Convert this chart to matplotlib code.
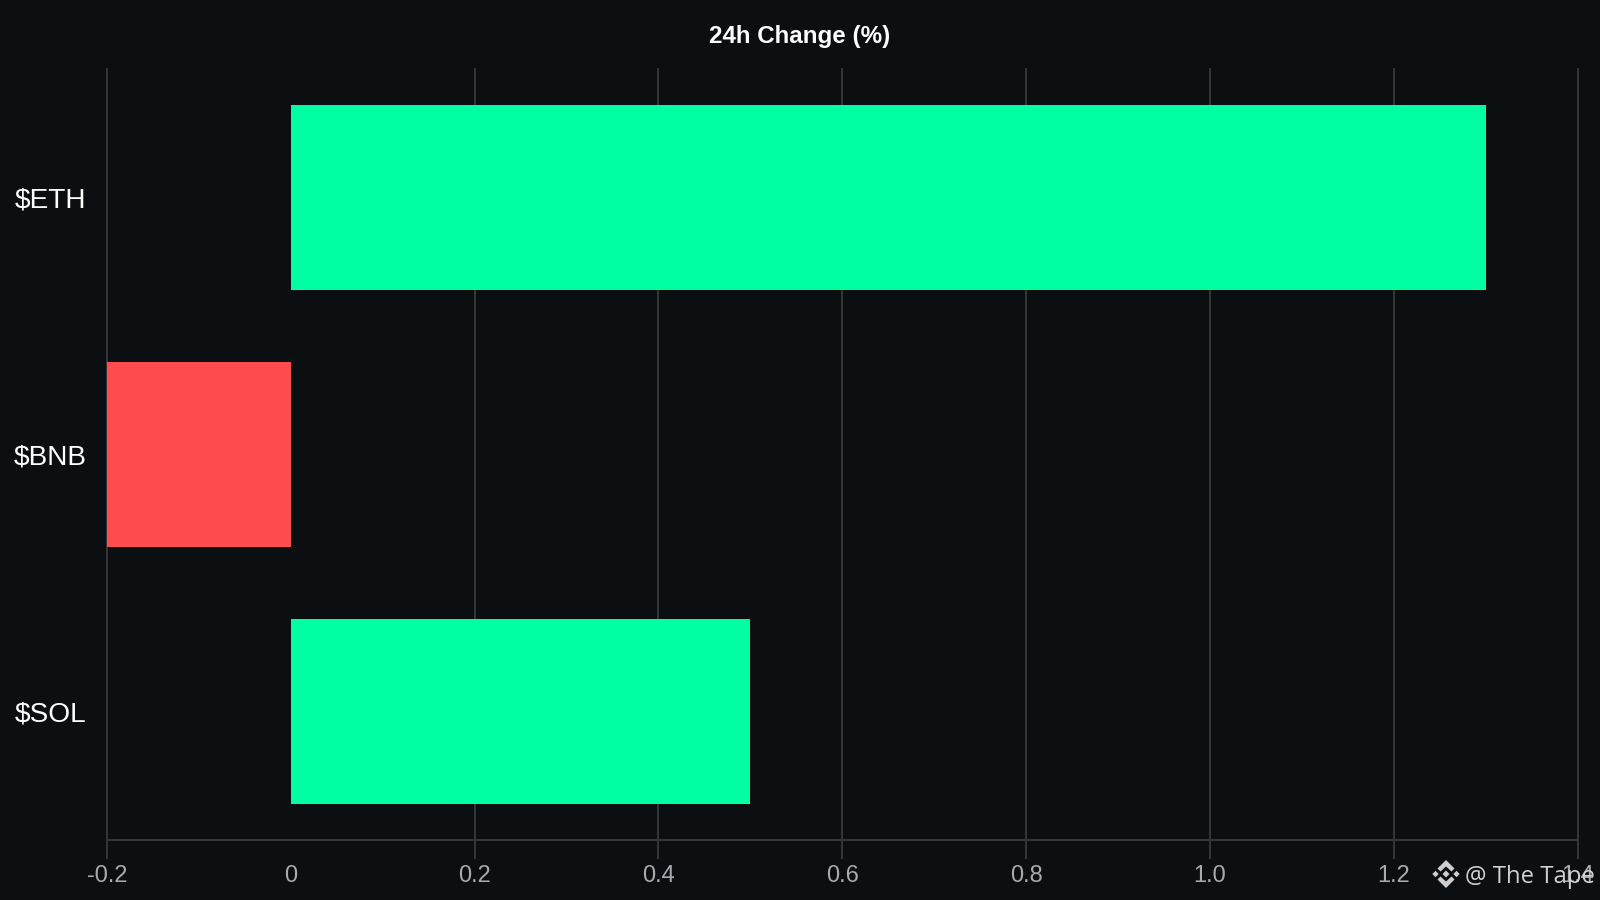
import matplotlib
matplotlib.use('Agg')
import matplotlib.pyplot as plt
from matplotlib.patches import Polygon

# 24h change per token
tokens = ['$ETH', '$BNB', '$SOL']
changes = [1.3, -0.2, 0.5]
tick_values = [-0.2, 0, 0.2, 0.4, 0.6, 0.8, 1.0, 1.2, 1.4]
tick_labels = ['-0.2', '0', '0.2', '0.4', '0.6', '0.8', '1.0', '1.2', '1.4']

BG = '#0b0f12'
GRID = '#3a3a3a'
UP = '#00ffa3'
DOWN = '#ff4d4f'

plt.rcParams['font.family'] = ['Liberation Sans', 'DejaVu Sans']

W, H = 1600, 900
fig = plt.figure(figsize=(16, 9), dpi=100, facecolor=BG)
ax = fig.add_axes([107 / W, 1 - 840 / H, (1577.5 - 107) / W, (840 - 69) / H], facecolor=BG)

colors = [UP if c >= 0 else DOWN for c in changes]
ax.barh(range(len(tokens)), changes, height=0.72, color=colors, zorder=3)

ax.set_xlim(-0.2, 1.4)
ax.set_ylim(2.5, -0.5)
ax.set_xticks(tick_values)
ax.set_xticklabels(tick_labels)
ax.set_yticks(range(len(tokens)))
ax.set_yticklabels(tokens)
ax.grid(axis='x', color=GRID, linewidth=1.3, zorder=1)
ax.set_axisbelow(True)

# edge lines would be cut in half by the axes clip
for line in ax.get_xgridlines():
    line.set_clip_on(False)

# no grid line and no tick at zero in the reference
ax.get_xgridlines()[1].set_visible(False)
ax.xaxis.get_major_ticks()[1].tick1line.set_visible(False)

for side in ['top', 'right', 'left']:
    ax.spines[side].set_visible(False)
ax.spines['bottom'].set_color(GRID)
ax.spines['bottom'].set_linewidth(1.3)

ax.tick_params(axis='x', colors='#aaaaaa', labelsize=17, length=13.5, width=1.3, color=GRID, pad=4.4)
ax.tick_params(axis='y', colors='white', labelsize=20.2, length=0, pad=14.6)

fig.text(800 / W, 1 - 36 / H, '24h Change (%)', color='white', fontsize=17.4, fontweight='bold',
         ha='center', va='center')

# watermark: diamond logo + text
logo_col = '#cfcfcf'
cx, cy = 1446, 874


def diamond(x, y, r):
    pts = [(x, y - r), (x + r, y), (x, y + r), (x - r, y)]
    return [(px / W, 1 - py / H) for px, py in pts]


for dx, r in [(0, 3.5), (-10.5, 3.2), (10.5, 3.2)]:
    fig.add_artist(Polygon(diamond(cx + dx, cy, r), closed=True, color=logo_col, lw=0,
                           transform=fig.transFigure, zorder=6))
for sign in [-1, 1]:
    pts = [(cx, cy + sign * 14), (cx + 8.5, cy + sign * 5.5), (cx + 5.5, cy + sign * 2.5),
           (cx, cy + sign * 7.5), (cx - 5.5, cy + sign * 2.5), (cx - 8.5, cy + sign * 5.5)]
    fig.add_artist(Polygon([(px / W, 1 - py / H) for px, py in pts], closed=True, color=logo_col, lw=0,
                           transform=fig.transFigure, zorder=6))

fig.text(1465 / W, 1 - 877 / H, '@ The Tape', color='#d0d0d0', fontsize=17.2, family='Open Sans',
         ha='left', va='center', zorder=6)

fig.savefig('out.png', dpi=100, facecolor=BG)
